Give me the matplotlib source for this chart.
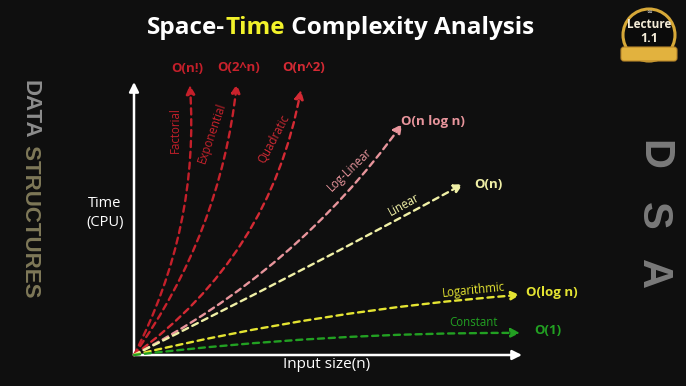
import matplotlib.pyplot as plt
from matplotlib.patches import Circle, FancyBboxPatch

# complexity classes, arrow tips (chart units, 0..100)
names = ['Factorial', 'Exponential', 'Quadratic', 'Log-Linear', 'Linear', 'Logarithmic', 'Constant']
bigo = ['O(n!)', 'O(2^n)', 'O(n^2)', 'O(n log n)', 'O(n)', 'O(log n)', 'O(1)']
end_x = [14.4, 26.5, 43.0, 69.1, 84.8, 99.5, 99.5]
end_y = [98.9, 99.3, 97.1, 84.6, 62.6, 22.0, 8.1]
# how much each curve bows away from the straight line (arc3 rad)
bend = [0.14, 0.13, 0.2, 0.12, 0.01, -0.04, -0.03]

# styling / layout
bg = '#0f0f0f'
colors = ['#c41f2a', '#c8222c', '#d42a34', '#e8959c', '#f0f0a6', '#e4e432', '#22a022']
# (offset in points from arrow tip, ha) for the big-O labels
tip_off = [((-2, 12), 'center'), ((1, 12), 'center'), ((2, 16), 'center'),
           ((-1, 2), 'left'), ((8, 0), 'left'), ((4, 2), 'left'), ((10, 2), 'left')]
# curve name placement (chart units) and rotation
name_pos = [(10.6, 82.4, 90), (20.2, 81.3, 71), (36.1, 79.1, 62), (55.5, 67.8, 44),
            (69.6, 55.0, 29), (87.6, 23.6, 6), (87.4, 11.9, 0)]

plt.rcParams['font.family'] = ['Open Sans', 'DejaVu Sans']

fig = plt.figure(figsize=(6.86, 3.86), dpi=100, facecolor=bg)

# full-figure axes in pixel units for decorations
deco = fig.add_axes([0, 0, 1, 1])
deco.set_xlim(0, 686)
deco.set_ylim(386, 0)
deco.axis('off')

# title, "Time" in yellow
t1 = deco.text(147, 28, 'Space-', color='white', fontsize=17.5, fontweight='bold', ha='left', va='center')
t2 = deco.annotate('Time', xy=(1, 0), xycoords=t1, color='#f2f22a', fontsize=17.5,
                   fontweight='bold', ha='left', va='bottom')
deco.annotate(' Complexity Analysis', xy=(1, 0), xycoords=t2, color='white', fontsize=17.5,
              fontweight='bold', ha='left', va='bottom')

# side watermark
s1 = deco.text(30, 80, 'DATA', color='#8c8c8c', fontsize=16, fontweight='bold',
               rotation=-90, ha='center', va='top', family='Liberation Sans')
deco.annotate(' STRUCTURES', xy=(0.5, 0), xycoords=s1, color='#7e7858', fontsize=16,
              fontweight='bold', rotation=-90, ha='center', va='top', family='Liberation Sans')
for letter, yy in zip('DSA', [155, 216, 274]):
    deco.text(653, yy, letter, color='#7a7a7a', fontsize=30, fontweight='bold',
              rotation=-90, ha='center', va='center', family='Liberation Sans')

# lecture badge
deco.add_patch(Circle((649, 35), 26, facecolor='#0b0b0b', edgecolor='#d6a838', lw=2.2))
deco.add_patch(FancyBboxPatch((621, 47), 56, 14, boxstyle='round,pad=0,rounding_size=3',
                              facecolor='#e2b23e', edgecolor='#b8862a', lw=0.8))
deco.text(649, 12, '\u221e', color='#dddddd', fontsize=5, ha='center', va='center', family='DejaVu Sans')
deco.text(649, 24, 'Lecture', color='#f4ecd8', fontsize=8.5, fontweight='bold', ha='center', va='center')
deco.text(649, 39, '1.1', color='#f4ecd8', fontsize=9, fontweight='bold', ha='center', va='center')

# axis labels
deco.text(105, 213, 'Time\n(CPU)', color='white', fontsize=10.5, ha='center', va='center',
          linespacing=1.4)
deco.text(327, 365, 'Input size(n)', color='white', fontsize=11, ha='center', va='center')

# chart axes: origin at the corner of the two white arrows
ax = fig.add_axes([134 / 686, 31 / 386, 388 / 686, 273 / 386])
ax.set_xlim(0, 100)
ax.set_ylim(0, 100)
ax.axis('off')

for tip in [(1.0, 0), (0, 1.0)]:
    ax.annotate('', xy=tip, xytext=(0, 0), xycoords='axes fraction',
                arrowprops=dict(arrowstyle='-|>', color='white', lw=1.8, mutation_scale=14,
                                shrinkA=0, shrinkB=0), annotation_clip=False)

dash = (0, (2.6, 2.0))
for i in range(len(names)):
    c = colors[i]
    ax.annotate('', xy=(end_x[i], end_y[i]), xytext=(0, 0),
                arrowprops=dict(arrowstyle='-|>', color=c, lw=1.7, linestyle=dash,
                                connectionstyle='arc3,rad=%.3f' % bend[i],
                                mutation_scale=13, shrinkA=0, shrinkB=0),
                annotation_clip=False)
    off, ha = tip_off[i]
    ax.annotate(bigo[i], xy=(end_x[i], end_y[i]), xytext=off, textcoords='offset points',
                color=c, fontsize=9.5, fontweight='bold', ha=ha, va='center', annotation_clip=False)
    nx, ny, rot = name_pos[i]
    ax.text(nx, ny, names[i], color=c, fontsize=8.3, rotation=rot, ha='center', va='center',
            rotation_mode='anchor')

fig.savefig('out.png', dpi=100, facecolor=bg)
